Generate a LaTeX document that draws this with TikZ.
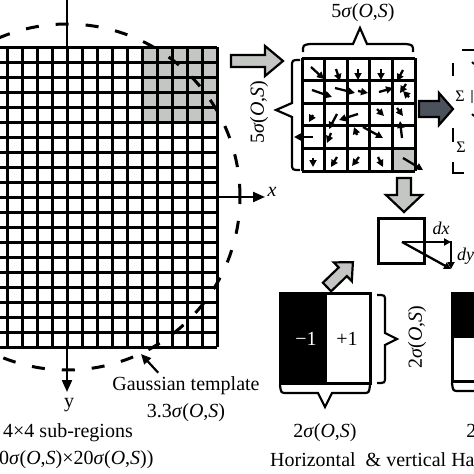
\documentclass[tikz,border=0pt]{standalone}
\usepackage{fontspec}
\setmainfont{Liberation Serif}
\usetikzlibrary{arrows.meta}
\newcommand{\sgOS}{\textit{σ}(\textit{O},\textit{S})}
\definecolor{lgray}{HTML}{C4C6C4}
\definecolor{dgray}{HTML}{4B525C}
\tikzset{
  gridline/.style={line width=3pt},
  brace/.style={line width=2.2pt},
  vec/.style={line width=2.3pt,-{Triangle[length=7pt,width=7pt]}},
  axis/.style={line width=2.2pt,-{Triangle[length=12pt,width=10pt]}},
  blockarrow/.style={line width=2.2pt,fill=lgray,line join=miter},
  lbl/.style={font=\fontsize{20}{24}\selectfont,inner sep=0pt},
  slbl/.style={font=\fontsize{16}{18}\selectfont,inner sep=0pt}
}
\begin{document}
\begin{tikzpicture}[x=1pt,y=-1pt]
\useasboundingbox (0,0) rectangle (474,474);
\clip (0,0) rectangle (474,474);
\fill[white] (0,0) rectangle (474,474);
% main grid
\fill[lgray] (142,47) rectangle (217,122);
\foreach \i in {0,...,20} {
  \draw[gridline] (-83+15*\i,47) -- (-83+15*\i,347);
  \draw[gridline] (-83,47+15*\i) -- (217,47+15*\i);
}
% gaussian circle
\draw[line width=3pt,dash pattern=on 13pt off 17pt,dash phase=6pt] (67,197) circle[radius=173];
% axes
\coordinate (ytop) at (67,0);
\coordinate (yend) at (67,392);
\coordinate (xstart) at (217,197);
\coordinate (xend) at (265,197);
\draw[axis] (ytop) -- (yend);
\draw[axis] (xstart) -- (xend);
\node[lbl] (xl) at (272,192) {\textit{x}};
\node[lbl] (yl) at (69,405) {y};
% labels bottom left
\node[lbl] (gt) at (186,386) {Gaussian template};
\node[lbl] (gs) at (186,413) {3.3\sgOS};
\coordinate (gtip) at (141,354);
\draw[axis,-{Triangle[length=10pt,width=9pt]}] (gt.north west) ++(46,-4) -- (gtip);
\node[lbl] (sub) at (68,433) {4×4 sub-regions};
\node[lbl] (subs) at (68,460) {(20\sgOS×20\sgOS)};
% gray arrow right
\draw[blockarrow] (231,55) -- (265,55) -- (265,46) -- (283,61) -- (265,76) -- (265,67) -- (231,67) -- cycle;
% small grid
\fill[lgray] (392.4,148.4) rectangle (415,171);
\foreach \i in {0,...,5} {
  \draw[gridline] (302+22.6*\i,58) -- (302+22.6*\i,171);
  \draw[gridline] (302,58+22.6*\i) -- (415,58+22.6*\i);
}
% vectors in small grid
\draw[vec] (311,67) -- (324,79);
\draw[vec] (336,69) -- (340,81);
\draw[vec] (358,69) -- (358,80);
\draw[vec] (381,69) -- (381,80);
\draw[vec] (403,70) -- (397,81);
\draw[vec] (312,90) -- (332,97);
\draw[vec] (335,88) -- (355,93);
\draw[vec] (358,91) -- (368,93);
\draw[vec] (379,92) -- (393,88);
\draw[vec] (406,84) -- (400,93);
\draw[vec] (409,97) -- (403,91);
\draw[vec] (313,115) -- (309,122);
\draw[vec] (337,114) -- (329,129);
\draw[vec] (358,114) -- (339,120);
\draw[vec] (377,109) -- (384,116);
\draw[vec] (397,108) -- (403,116);
\draw[vec] (313,137) -- (294,137);
\draw[vec] (331,133) -- (327,143);
\draw[vec] (357,135) -- (354,127);
\draw[vec] (363,127) -- (383,138);
\draw[vec] (402,138) -- (400,121);
\draw[vec] (313,158) -- (313,167);
\draw[vec] (337,157) -- (331,167);
\draw[vec] (359,157) -- (352,166);
\draw[vec] (378,157) -- (383,167);
\draw[vec] (403,158) -- (423,170);
% top brace
\draw[brace] (303,52) .. controls (303,45) .. (310,44) -- (353,44) -- (360,28) -- (367,44) -- (406,44) .. controls (413,45) .. (413,52);
\node[lbl] (tb) at (363,13) {5\sgOS};
% left brace
\draw[brace] (300,60) .. controls (292,60) .. (292,67) -- (292,103) -- (276,110) -- (292,117) -- (292,163) .. controls (292,170) .. (300,170);
\node[lbl,rotate=90] (lb) at (259,112) {5\sgOS};
% dark arrow
\draw[line width=2.2pt,fill=dgray,line join=miter] (419,101) -- (439,101) -- (439,93) -- (453,109) -- (439,125) -- (439,117) -- (419,117) -- cycle;
% sigma bracket
\draw[line width=2.5pt] (462,50) -- (474,50);
\draw[line width=2.5pt] (453,63) -- (453,76);
\node[slbl] (s1) at (460,96) {Σ};
\draw[line width=2.5pt,gray] (472,90) -- (472,103);
\draw[line width=2pt] (472,62) -- (474,64);
\draw[line width=2pt] (472,114) -- (474,116);
\draw[line width=2.5pt] (453,128) -- (453,142);
\node[slbl] (s2) at (461,147) {Σ};
\draw[line width=2.5pt] (453,162) -- (453,173) -- (464,173);
% down arrow
\draw[blockarrow] (397,178) -- (411,178) -- (411,195) -- (422,195) -- (404,212) -- (386,195) -- (397,195) -- cycle;
% small square
\draw[gridline] (378,218) rectangle (424,263);
\coordinate (c) at (402,242);
\coordinate (dxe) at (451,242);
\coordinate (dye) at (451,269);
\draw[vec] (c) -- (dxe);
\draw[vec] (dxe) ++(0,-1) -- (dye);
\draw[vec] (c) -- (dye);
\node[lbl,font=\fontsize{18}{20}\selectfont\itshape] (dx) at (441,228) {dx};
\node[lbl,font=\fontsize{18}{20}\selectfont\itshape,anchor=west] (dy) at (457,256) {dy};
% diagonal arrow
\draw[blockarrow] (331.1,291.3) -- (346.9,276.1) -- (351.8,281.2) -- (352.9,262.2) -- (333.8,262.4) -- (338.7,267.5) -- (322.9,282.7) -- cycle;
% haar box 1
\fill[black] (280,293) rectangle (327,383);
\draw[gridline] (280,293) rectangle (370,383);
\node[lbl,text=white] (m1) at (306,339) {−1};
\node[lbl] (p1) at (347,339) {+1};
\draw[brace] (377,295) .. controls (385,295) .. (385,301) -- (385,333) -- (397,339) -- (385,345) -- (385,377) .. controls (385,383) .. (377,383);
\node[lbl,rotate=90] (rb) at (417,337) {2\sgOS};
\draw[brace] (280,385) .. controls (281,393) .. (287,393) -- (318,393) -- (325,407) -- (332,393) -- (363,393) .. controls (369,393) .. (370,385);
\node[lbl] (bb) at (325,433) {2\sgOS};
% haar box 2
\fill[black] (452,293) rectangle (542,338);
\draw[gridline] (452,293) rectangle (542,381);
\draw[brace] (452,383) .. controls (453,391) .. (459,391) -- (490,391);
\node[lbl] (bb2) at (498,433) {2\sgOS};
\node[lbl,anchor=west] (hv) at (270,460) {Horizontal\ \ \& vertical Haar wavelets};
\end{tikzpicture}
\end{document}
